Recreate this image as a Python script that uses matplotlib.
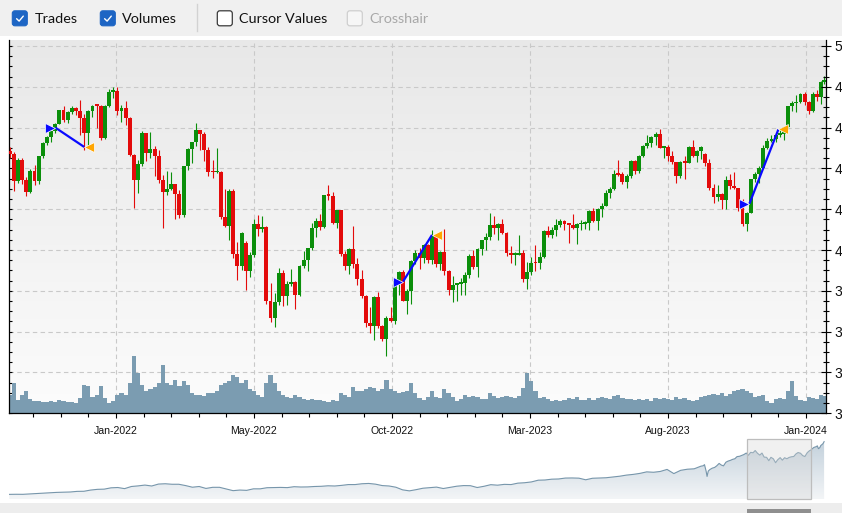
import numpy as np
import matplotlib
matplotlib.use("Agg")
import matplotlib.pyplot as plt
import matplotlib.ticker as mticker
import matplotlib.transforms as mtransforms
from matplotlib.patches import Rectangle, FancyBboxPatch
from matplotlib.colors import LinearSegmentedColormap

# ---------------- data (3-session candles, SPY Sep-2021 .. Jan-2024) ----------------
opens = [448.6,447.2,433.6,443.9,434.4,428.6,438.7,433.6,445.9,452.4,455.6,458.3,461.9,468.5,463.6,467.4,469.7,468.2,464.6,457.4,
         468.3,470.7,470.6,455.0,470.6,477.5,477.7,467.9,469.8,464.7,446.8,434.5,442.0,457.4,447.3,449.3,446.1,434.2,428.3,430.0,
         432.2,427.4,417.0,441.1,449.6,452.7,458.7,456.8,448.8,438.3,438.0,438.1,416.1,412.0,429.1,398.2,392.3,403.5,389.6,397.4,
         412.9,410.5,411.2,375.0,366.7,374.4,388.6,377.3,383.3,384.2,377.9,392.3,395.1,401.0,410.8,414.2,411.4,427.1,426.7,413.4,
         419.5,398.2,392.2,400.4,393.1,385.6,377.4,364.3,362.8,377.1,362.8,356.6,366.8,365.4,384.9,389.0,374.9,380.0,394.7,398.5,
         396.0,402.4,395.2,406.9,393.2,399.0,389.6,380.5,382.9,383.4,383.8,387.9,397.0,391.5,400.6,404.8,406.5,412.4,410.7,412.8,
         408.3,398.5,397.7,397.8,398.3,385.9,389.3,393.7,393.7,396.5,409.4,407.6,409.7,412.5,414.1,412.6,412.4,410.8,412.6,412.9,
         413.0,419.2,414.1,420.0,421.8,428.0,429.9,437.2,437.2,433.2,436.4,443.8,438.6,446.0,450.8,452.2,455.4,456.9,450.1,450.7,
         445.9,442.9,436.5,443.0,442.8,450.4,446.2,448.5,447.1,442.7,430.4,426.1,427.3,424.5,434.5,431.5,430.2,420.5,412.6,418.2,
         434.7,437.3,440.2,450.2,453.3,454.5,456.4,456.6,460.2,470.5,472.0,472.7,476.5,472.7,467.9,476.6,474.9,482.4]
highs = [450.5,447.8,445.0,444.9,436.0,439.5,441.7,446.3,452.8,456.0,458.5,462.0,468.7,470.6,468.0,470.5,470.3,473.5,466.5,468.8,
         470.9,471.5,470.9,471.0,478.8,479.9,480.0,470.9,473.2,465.0,447.0,444.0,458.1,457.5,457.9,451.0,448.9,436.8,438.5,438.2,
         432.5,429.5,441.1,450.0,453.0,462.1,458.8,457.8,450.6,444.1,450.0,438.5,429.7,429.7,429.7,404.0,408.6,404.5,399.0,415.4,
         417.4,416.5,411.8,383.9,379.0,391.3,390.0,385.0,390.8,385.0,392.9,399.4,401.2,413.0,415.7,417.6,427.2,431.7,428.6,419.6,
         419.7,399.5,401.0,411.7,396.0,390.0,378.0,372.3,377.5,379.5,363.5,367.5,372.3,385.3,389.5,390.4,381.1,395.0,399.8,400.8,
         402.9,402.9,410.0,407.0,399.4,410.5,390.0,387.4,384.0,386.4,389.2,398.2,400.2,401.2,405.0,408.2,418.3,416.5,413.0,415.0,
         409.0,402.2,399.0,407.5,399.8,394.0,396.5,402.5,398.9,409.7,411.6,411.2,415.1,415.1,414.5,413.0,417.6,413.0,414.5,414.0,
         419.7,420.7,420.8,422.9,429.6,431.0,439.1,443.9,438.0,437.3,444.3,444.3,446.6,451.4,456.4,456.0,457.8,459.4,451.0,451.5,
         448.7,443.0,443.7,446.0,451.1,453.7,448.8,451.1,447.4,444.6,432.4,431.9,428.0,436.2,437.3,438.1,430.6,424.8,418.5,434.8,
         438.1,441.0,451.4,455.1,456.4,456.8,459.6,460.8,470.8,472.8,475.9,477.0,477.6,473.0,477.6,478.6,482.7,485.2]
lows = [445.0,429.0,433.0,432.5,426.5,428.0,432.0,432.5,445.0,451.5,453.0,457.5,461.5,462.5,462.0,466.5,466.0,456.5,448.9,451.0,
        465.0,460.0,454.0,454.5,470.0,474.6,466.0,462.6,461.2,446.3,420.8,427.9,441.0,443.5,445.2,436.5,432.6,410.6,427.0,429.5,
        415.1,415.8,416.0,439.0,442.5,451.0,449.1,443.4,436.2,435.5,437.5,415.0,411.2,405.0,395.9,385.2,390.0,380.5,386.9,396.5,
        406.9,409.0,373.5,364.9,362.2,372.9,372.5,373.0,382.5,371.0,377.5,391.0,389.6,400.0,406.5,409.8,411.0,424.5,412.6,410.6,
        396.9,390.0,388.4,391.4,383.0,376.5,362.5,359.2,356.0,362.0,355.5,348.1,364.6,363.9,378.0,374.8,368.8,373.6,393.3,390.5,
        393.5,393.5,393.3,391.5,390.4,387.6,377.8,374.3,374.8,377.8,377.8,386.3,390.9,386.8,397.6,400.2,405.0,408.0,405.0,408.0,
        397.0,393.6,392.5,397.5,384.5,380.7,388.0,389.5,390.5,396.0,406.6,405.8,407.0,411.5,410.0,403.5,410.2,403.0,409.9,410.1,
        409.9,413.9,410.0,416.0,421.5,425.5,429.5,436.3,432.5,430.5,435.5,437.1,437.5,445.5,450.0,450.5,451.5,449.8,445.0,443.5,
        442.3,433.0,435.5,435.0,442.5,445.5,442.9,444.5,441.0,429.5,422.8,424.0,420.2,420.2,429.9,429.9,418.9,411.6,409.2,418.0,
        433.4,433.0,440.0,449.3,453.0,453.0,455.2,454.0,459.5,467.9,467.5,472.0,471.0,466.4,467.8,473.0,471.5,481.1]
closes = [447.2,433.6,443.9,434.4,428.6,438.7,433.6,445.9,452.4,455.6,458.3,461.9,468.5,463.6,467.4,469.7,468.2,464.6,457.4,468.3,
          470.7,470.6,455.0,470.6,477.5,477.7,467.9,469.8,464.7,446.8,434.5,442.0,457.4,447.3,449.3,446.1,434.2,428.3,430.0,432.2,
          427.4,417.0,441.1,449.6,452.7,458.7,456.8,448.8,438.3,438.0,438.1,416.1,412.0,429.1,398.2,392.3,408.3,389.6,397.4,412.9,
          410.5,411.2,375.0,366.7,374.4,388.6,377.3,383.3,384.2,377.9,392.3,395.1,401.0,410.8,414.2,411.4,427.1,426.7,413.4,419.5,
          398.2,392.2,400.4,393.1,385.6,377.4,364.3,362.8,377.1,362.8,356.6,366.8,365.4,384.9,389.0,374.9,380.0,394.7,398.5,396.0,
          402.4,395.2,406.9,393.2,399.0,389.6,380.5,382.9,383.4,383.8,387.9,397.0,391.5,400.6,404.8,406.5,412.4,410.7,412.8,408.3,
          398.5,397.7,397.8,398.3,385.9,389.3,393.7,393.4,396.5,409.4,407.6,409.7,412.5,414.1,412.6,412.4,410.8,412.6,412.9,413.0,
          419.2,414.1,420.0,421.8,428.0,429.9,437.2,437.0,433.2,436.4,443.8,438.6,446.0,450.8,452.2,455.4,456.9,450.1,450.7,445.9,
          442.9,436.5,443.0,442.8,450.4,446.2,448.5,450.4,442.7,430.4,426.1,427.3,424.5,434.5,431.5,430.2,420.5,412.6,418.2,434.7,
          437.3,440.2,450.2,453.3,454.5,456.4,456.6,460.2,470.5,472.0,472.7,476.5,472.7,467.9,476.6,474.9,482.4,483.5]
volumes = [79,132,57,79,97,62,53,53,48,48, 53,48,57,53,48,48,44,66,123,119,
           70,79,119,66,44,53,79,88,79,132, 251,176,123,97,106,114,132,211,132,123,
           145,119,141,123,88,79,79,75,88,88, 97,123,132,141,167,158,132,145,106,97,
           79,70,132,167,132,97,79,70,66,79, 70,62,57,62,57,57,53,48,57,53,
           88,79,70,114,97,97,106,114,110,97, 106,145,106,97,88,92,97,132,88,66,
           57,70,97,70,66,106,88,70,53,62, 79,70,75,70,62,62,88,75,66,70,
           75,70,66,75,110,176,141,97,66,70, 62,53,57,53,57,66,62,70,57,57,
           66,57,66,70,66,62,75,79,66,62, 62,57,62,57,62,53,66,62,66,62,
           57,70,62,66,57,53,57,70,75,79, 84,79,88,75,84,97,101,106,97,88,
           70,75,79,53,44,62,66,62,97,141, 75,57,53,70,66,62,79,75]
sessions_per_candle = 3
n_sessions = 592

x_major_idx = [78, 178, 278, 378, 478, 578]
x_major_labels = ["Jan-2022", "May-2022", "Oct-2022", "Mar-2023", "Aug-2023", "Jan-2024"]

trade_entry_idx = [34, 286, 537]
trade_entry_px = [460.0, 384.5, 422.7]
trade_exit_idx = [55, 307, 558]
trade_exit_px = [450.5, 407.4, 459.1]

# navigator (long history, quarterly to 2019, then monthly)
nav_q_close = [45.5,46.5,46.0,50.0,54.5,58.5,61.5,65.0,67.0,69.0,75.0,76.0,88.0,95.0,97.0,110.0,113.0,102.0,123.0,129.0,
               137.0,128.0,147.0,150.0,145.0,145.0,132.0,116.0,123.0,104.0,115.0,115.0,99.0,82.0,88.0,85.0,100.0,100.0,111.0,113.0,
               114.0,112.0,121.0,118.0,119.0,123.0,125.0,130.0,128.0,134.0,142.0,142.0,150.0,153.0,146.0,132.0,128.0,116.0,90.0,80.0,
               92.0,106.0,111.0,117.0,103.0,114.0,126.0,132.0,131.0,113.0,125.0,141.0,136.0,144.0,142.0,156.0,160.0,168.0,185.0,187.0,
               195.0,197.0,206.0,207.0,205.0,189.0,204.0,206.0,209.0,216.0,224.0,235.0,242.0,252.0,267.0,263.0,271.0,291.0,250.0,282.0,
               293.0,297.0]
nav_q_start = 1994.5
nav_recent_years = [2020.0,2020.083,2020.13,2020.19,2020.225,2020.27,2020.33,2020.42,2020.5,2020.58,2020.67,2020.75,2020.83,2020.92,
                    2021.0,2021.083,2021.167,2021.25,2021.33,2021.42,2021.5,2021.58,2021.67,2021.75,2021.83,2021.92,
                    2022.0,2022.083,2022.167,2022.25,2022.33,2022.42,2022.5,2022.58,2022.67,2022.75,2022.83,2022.92,
                    2023.0,2023.083,2023.167,2023.25,2023.33,2023.42,2023.5,2023.58,2023.67,2023.75,2023.83,2023.92,
                    2024.0,2024.06,2024.083,2024.167,2024.25,2024.29,2024.33,2024.38,2024.42,2024.46,2024.5,2024.54]
nav_recent_close = [323,327,338,274,222,275,290,304,310,326,350,334,326,362,
                    373,380,390,396,417,420,428,437,452,430,459,455,
                    477,450,432,452,412,410,377,410,395,357,386,407,
                    382,406,396,409,415,418,443,457,450,427,418,456,
                    475,483,490,508,515,523,495,505,527,535,545,564]

# ---------------- colours ----------------
GREEN = "#0b8f0b"
RED = "#e30b0b"
VOL = "#7b9cb1"
GRID = "#c9c9c9"

W, H = 842, 513
fig = plt.figure(figsize=(W / 100, H / 100), dpi=100)
fig.patch.set_facecolor("white")


def rect(x0, y0, x1, y1):
    return [x0 / W, 1 - y1 / H, (x1 - x0) / W, (y1 - y0) / H]


# ---------------- main price axes ----------------
ax = fig.add_axes(rect(9.3, 40, 826, 413.3))
ax.set_facecolor("none")

grad = LinearSegmentedColormap.from_list("bg", ["#fcfcfc", "#e8e8e8"])
ax.imshow(np.linspace(0, 1, 256).reshape(-1, 1), extent=[0, 1, 0, 1], transform=ax.transAxes,
          aspect="auto", cmap=grad, origin="lower", zorder=0.1, interpolation="bilinear")

o = np.array(opens); hi = np.array(highs); lo = np.array(lows); c = np.array(closes)
k = np.arange(len(c))
xc = np.minimum(k * sessions_per_candle + 1, n_sessions - 1)
cols = np.where(c >= o, GREEN, RED)

# volume (bottom band, axes-fraction heights)
vol_tr = mtransforms.blended_transform_factory(ax.transData, ax.transAxes)
vol_scale = 1628.0
for xi, v in zip(xc, volumes):
    ax.add_patch(Rectangle((xi - 1.5, 0), 3.0, v / vol_scale, transform=vol_tr,
                           facecolor=VOL, edgecolor="none", zorder=2))

ax.vlines(xc, lo, hi, colors=cols, lw=0.8, zorder=3)
body_bottom = np.minimum(o, c)
body_h = np.maximum(np.abs(c - o), 0.7)
ax.bar(xc, body_h, bottom=body_bottom, width=2.85, color=cols, linewidth=0, zorder=4)

# trades
blue_tr = mtransforms.offset_copy(ax.transData, fig=fig, x=-3.6, y=0, units="points")
orng_tr = mtransforms.offset_copy(ax.transData, fig=fig, x=3.6, y=0, units="points")
for ei, ep, xi_, xp in zip(trade_entry_idx, trade_entry_px, trade_exit_idx, trade_exit_px):
    ax.plot([ei, xi_], [ep, xp], color="#0a0aff", lw=1.6, zorder=6, solid_capstyle="butt")
    ax.plot([ei], [ep], marker=">", ms=7.2, color="#0a0aff", mec="white", mew=0.5,
            transform=blue_tr, zorder=7)
    ax.plot([xi_], [xp], marker="<", ms=7.2, color="#ffa500", mec="white", mew=0.5,
            transform=orng_tr, zorder=7)

ax.set_xlim(0.72, 592.5)
ax.set_ylim(320, 502.9)

# ticks / grid
ax.set_xticks(x_major_idx)
ax.set_xticklabels(x_major_labels, fontfamily="Liberation Sans", fontsize=7.6, color="#111111")
minor_x = [i for i in range(18, n_sessions + 1, 20) if i not in x_major_idx]
ax.set_xticks(minor_x, minor=True)
ax.yaxis.set_major_locator(mticker.MultipleLocator(20))
ax.yaxis.set_minor_locator(mticker.MultipleLocator(5))
ax.tick_params(axis="x", which="major", direction="inout", length=7.2, width=0.8, pad=5.8, color="black")
ax.tick_params(axis="x", which="minor", direction="out", length=2.6, width=0.8, color="black")
ax.tick_params(axis="y", which="both", direction="in", length=2.3, width=0.8, left=True, right=False,
               labelleft=False)
ax.grid(True, which="major", color=GRID, ls=(0, (4, 3)), lw=0.8)
ax.set_axisbelow(True)
for s in ["left", "bottom"]:
    ax.spines[s].set_linewidth(0.9)
    ax.spines[s].set_color("black")
ax.spines["top"].set_visible(False)
ax.spines["right"].set_visible(False)

ax2 = ax.twinx()
ax2.set_ylim(320, 502.9)
ax2.yaxis.set_major_locator(mticker.MultipleLocator(20))
ax2.yaxis.set_minor_locator(mticker.MultipleLocator(5))
ax2.yaxis.set_major_formatter(mticker.FormatStrFormatter("%d"))
ax2.tick_params(axis="y", which="major", direction="inout", length=6.7, width=0.8, pad=2.6,
                labelsize=10, labelcolor="#111111")
ax2.tick_params(axis="y", which="minor", direction="inout", length=4.3, width=0.8)
for lab in ax2.get_yticklabels():
    lab.set_fontfamily("Liberation Sans")
for s in ["left", "bottom", "top"]:
    ax2.spines[s].set_visible(False)
ax2.spines["right"].set_linewidth(0.9)

# ---------------- navigator ----------------
axn = fig.add_axes(rect(9.3, 438, 826, 499))
axn.set_facecolor("none")
nav_years = list(nav_q_start + 0.25 * np.arange(len(nav_q_close))) + nav_recent_years
nav_close = nav_q_close + nav_recent_close
NAV_LO, NAV_HI = 0, 600
poly = axn.fill_between(nav_years, nav_close, NAV_LO, color="none", lw=0)
ngrad = LinearSegmentedColormap.from_list("ng", ["#f3f5f7", "#c3d1dc"])
im = axn.imshow(np.linspace(0, 1, 256).reshape(-1, 1), extent=[1994.5, 2024.61, NAV_LO, 570],
                aspect="auto", cmap=ngrad, origin="lower", zorder=1)
im.set_clip_path(poly.get_paths()[0], transform=axn.transData)
axn.plot(nav_years, nav_close, color="#7796ab", lw=0.8, zorder=2)
axn.set_xlim(1994.5, 2024.61)
axn.set_ylim(NAV_LO, NAV_HI)
axn.axis("off")

# ---------------- UI overlay (toolbar, navigator selection, scrollbar) ----------------
ui = fig.add_axes([0, 0, 1, 1])
ui.set_xlim(0, W)
ui.set_ylim(H, 0)
ui.axis("off")
ui.set_zorder(20)
ui.patch.set_alpha(0)

ui.add_patch(Rectangle((0, 0), W, 35.5, facecolor="#f0f0f0", edgecolor="none"))
ui.plot([196.7, 196.7], [3.5, 31], color="#d2d2d2", lw=1.0)

UI_FONT = ["Lato", "DejaVu Sans"]


def checkbox(x, y, checked, enabled=True):
    if checked:
        ui.add_patch(FancyBboxPatch((x, y), 15, 15, boxstyle="round,pad=0,rounding_size=2.6",
                                    facecolor="#1d65c4", edgecolor="#1d65c4", lw=0.8))
        ui.plot([x + 4.3, x + 6.8, x + 11.0], [y + 7.9, y + 10.3, y + 5.3], color="white",
                lw=1.0, solid_capstyle="round", solid_joinstyle="round")
    else:
        ec = "#3a3a3a" if enabled else "#cfcfcf"
        fc = "white" if enabled else "#f6f6f6"
        ui.add_patch(FancyBboxPatch((x, y), 15, 15, boxstyle="round,pad=0,rounding_size=2.6",
                                    facecolor=fc, edgecolor=ec, lw=0.9))


checkbox(12.3, 10.8, True)
ui.text(35, 22.7, "Trades", fontsize=10.4, family=UI_FONT, color="#111111", va="baseline")
checkbox(100.3, 10.8, True)
ui.text(121.7, 22.7, "Volumes", fontsize=10.4, family=UI_FONT, color="#111111", va="baseline")
checkbox(217.3, 10.8, False)
ui.text(239, 22.7, "Cursor Values", fontsize=10.4, family=UI_FONT, color="#111111", va="baseline")
checkbox(347.3, 10.8, False, enabled=False)
ui.text(369, 22.7, "Crosshair", fontsize=10.4, family=UI_FONT, color="#a8a8a8", va="baseline")

# navigator selection and scrollbar
ui.add_patch(Rectangle((747, 439), 64, 60, facecolor=(0.84, 0.84, 0.84, 0.35),
                       edgecolor="#bdbdbd", lw=0.9))
ui.add_patch(Rectangle((0, 502.5), W, 10.5, facecolor="#ededed", edgecolor="none"))
ui.add_patch(Rectangle((747, 509), 64, 4, facecolor="#8f8f8f", edgecolor="none"))

fig.savefig("out.png", dpi=100, facecolor="white")
